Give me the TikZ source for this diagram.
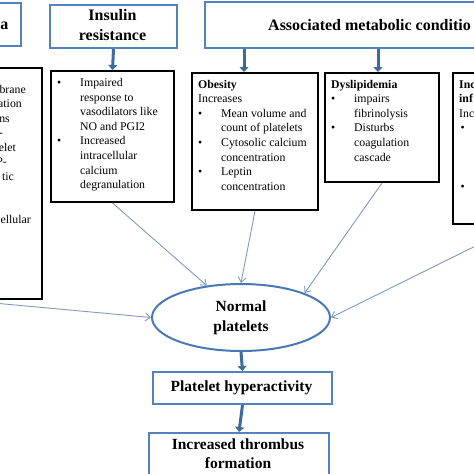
\documentclass[tikz,border=0pt]{standalone}
\usepackage{fontspec}
\setmainfont{Liberation Serif}
\usetikzlibrary{arrows.meta,shapes.geometric,calc}
\definecolor{boxblue}{HTML}{5582BD}
\definecolor{arrdark}{HTML}{3C6B9C}
\definecolor{arrlight}{HTML}{7F99C0}
\definecolor{ellblue}{HTML}{4A78B3}
\newcommand\bodyf{\fontsize{11.8}{14.6}\selectfont}
\newcommand\headf{\fontsize{16}{20}\selectfont\bfseries}
\newcommand\midf{\fontsize{15.5}{19.5}\selectfont\bfseries}
\tikzset{
  bluebox/.style={draw=boxblue,line width=2pt,fill=white,inner sep=0pt,anchor=north west},
  blackbox/.style={draw=black,line width=2pt,fill=white,inner sep=0pt,anchor=north west},
  txt/.style={inner sep=0pt,anchor=base west,align=left},
  thickarr/.style={draw=arrdark,line width=3pt,-{Triangle[length=5pt,width=9pt]}},
  thinarr/.style={draw=arrlight,line width=0.9pt,-{Straight Barb[length=5pt,width=8pt]}}
}
\begin{document}
\begin{tikzpicture}[x=1pt,y=-1pt]
\useasboundingbox (0,0) rectangle (474,474);
\clip (0,0) rectangle (474,474);
% top row
\node[bluebox,minimum width=120pt,minimum height=43pt] (hyp) at (-100,2) {};
\node[inner sep=0pt,anchor=base east,font=\headf] (hyptxt) at (8.5,29.5) {a};
\node[bluebox,minimum width=127pt,minimum height=43pt] (ins) at (49,4) {};
\node[inner sep=0pt,align=center,font=\headf] (institle) at (112.5,25.5) {Insulin\\resistance};
\node[bluebox,minimum width=500pt,minimum height=46.5pt] (assoc) at (204,0.5) {};
\node[inner sep=0pt,anchor=base west,font=\headf] (assoctxt) at (268,30) {Associated metabolic conditio};
% middle boxes
\node[blackbox,minimum width=162pt,minimum height=231pt] (left) at (-121,67) {};
\node[inner sep=0pt,anchor=base east,font=\bodyf] (l1) at (26,93) {brane};
\node[inner sep=0pt,anchor=base east,font=\bodyf] (l2) at (22,107.5) {ation};
\node[inner sep=0pt,anchor=base east,font=\bodyf] (l3) at (10,122) {ns};
\node[inner sep=0pt,anchor=base east,font=\bodyf] (l4) at (3,136.5) {-};
\node[inner sep=0pt,anchor=base east,font=\bodyf] (l5) at (16,151) {elet};
\node[inner sep=0pt,anchor=base east,font=\bodyf] (l6) at (7,165.5) {P-};
\node[inner sep=0pt,anchor=base east,font=\bodyf] (l7) at (14,180) {tic};
\node[inner sep=0pt,anchor=base east,font=\bodyf] (l8) at (31,223.5) {ellular};

\node[blackbox,minimum width=123pt,minimum height=131pt] (instxtbox) at (50,70) {};
\node[txt,font=\bodyf] (instxt) at (57,86.5) {\begin{tabular}[t]{@{}p{23pt}@{}l@{}}
\textbullet & Impaired\\ & response to\\ & vasodilators like\\ & NO and PGI2\\
\textbullet & Increased\\ & intracellular\\ & calcium\\ & degranulation
\end{tabular}};

\node[blackbox,minimum width=126pt,minimum height=137pt] (ob) at (191,72) {};
\node[txt,font=\bodyf] (obtxt) at (198,88) {\begin{tabular}[t]{@{}p{23pt}@{}l@{}}
\multicolumn{2}{@{}l@{}}{\textbf{Obesity}}\\
\multicolumn{2}{@{}l@{}}{Increases}\\
\textbullet & Mean volume and\\ & count of platelets\\
\textbullet & Cytosolic calcium\\ & concentration\\
\textbullet & Leptin\\ & concentration
\end{tabular}};

\node[blackbox,minimum width=114pt,minimum height=109pt] (dys) at (324,72) {};
\node[txt,font=\bodyf] (dystxt) at (331,88) {\begin{tabular}[t]{@{}p{23pt}@{}l@{}}
\multicolumn{2}{@{}l@{}}{\textbf{Dyslipidemia}}\\
\textbullet & impairs\\ & fibrinolysis\\
\textbullet & Disturbs\\ & coagulation\\ & cascade
\end{tabular}};

\node[blackbox,minimum width=130pt,minimum height=151pt] (infl) at (452,72) {};
\node[txt,font=\bodyf] (infltxt) at (459,88) {\begin{tabular}[t]{@{}l@{}}
\textbf{Inc}\\ \textbf{inf}\\ Inc\\ \hspace{1.5pt}\textbullet\\ \\ \\ \\ \hspace{1.5pt}\textbullet
\end{tabular}};

% bottom
\node[ellipse,draw=ellblue,line width=2pt,fill=white,minimum width=178pt,minimum height=67pt,inner sep=0pt] (ell) at (241,317.5) {};
\node[inner sep=0pt,align=center,font=\midf] (elltxt) at (241,318) {Normal\\platelets};
\node[bluebox,minimum width=179pt,minimum height=32pt] (hyper) at (152,371) {};
\node[inner sep=0pt,font=\midf] (hypertxt) at (241.5,387.5) {Platelet hyperactivity};
\node[bluebox,minimum width=180pt,minimum height=46pt] (thr) at (148,432) {};
\node[inner sep=0pt,align=center,font=\midf] (thrtxt) at (238,453.5) {Increased thrombus\\formation};

% thick arrows
\draw[thickarr] (ins.south) -- (instxtbox.north);
\draw[thickarr] ([xshift=-11pt]ob.north |- assoc.south) -- ([xshift=-11pt]ob.north);
\draw[thickarr] ([xshift=-4pt]dys.north |- assoc.south) -- ([xshift=-4pt]dys.north);
\draw[thickarr] (ell.south) -- (hyper.north);
\draw[thickarr] (hyper.south) -- (thr.north);
% thin arrows
\draw[thinarr] (left.south) -- (ell.west);
\draw[thinarr] (instxtbox.south) -- (ell.137);
\draw[thinarr] (ob.south) -- (ell.north);
\draw[thinarr] (dys.south) -- (ell.21);
\draw[thinarr] (infl.south) -- (ell.east);
\end{tikzpicture}
\end{document}
